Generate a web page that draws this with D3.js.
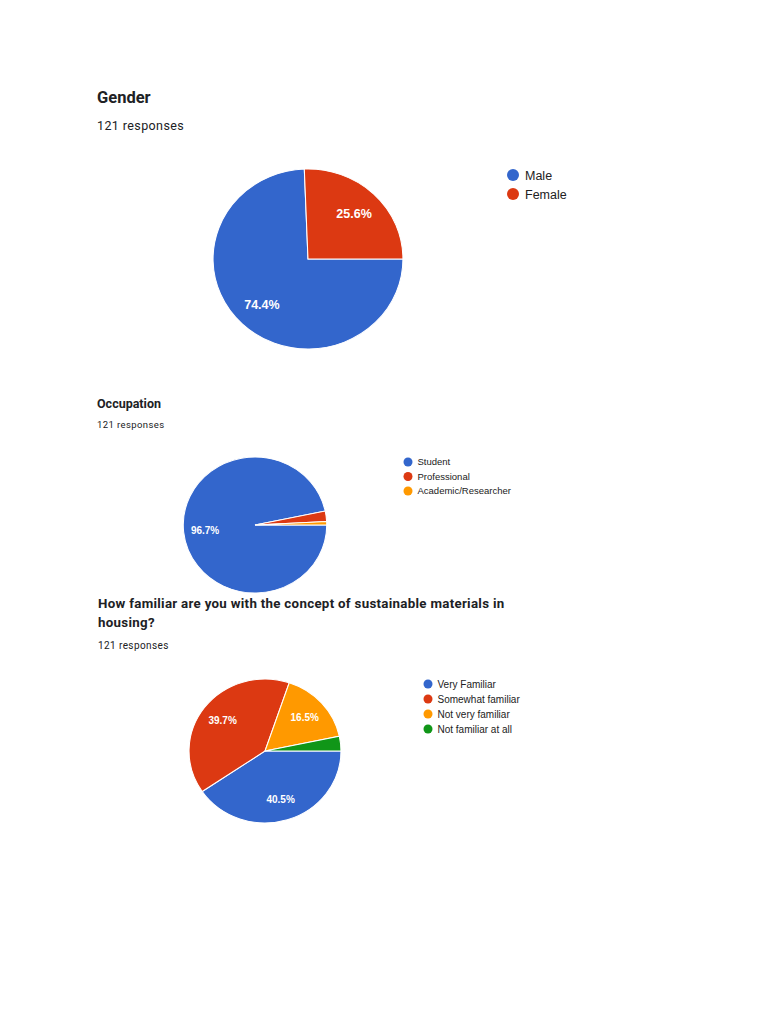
<!DOCTYPE html>
<html>
<head>
<meta charset="utf-8">
<script src="https://cdn.jsdelivr.net/npm/d3@7"></script>
<style>
  body { margin: 0; background: #fff; }
  .title { font-family: Roboto, "Liberation Sans", sans-serif; font-weight: bold; fill: #202124; }
  .sub { font-family: Roboto, "Liberation Sans", sans-serif; fill: #202124; letter-spacing: 0.4px; }
  .legend-text { font-family: "Liberation Sans", Arial, sans-serif; fill: #222; }
  .slice-label { font-family: "Liberation Sans", Arial, sans-serif; font-weight: bold; fill: #fff; }
</style>
</head>
<body>
<div id="chart"></div>
<script>
const COLORS = ['#3366cc', '#dc3912', '#ff9900', '#109618'];

const genderLabels = ['Male', 'Female'];
const genderValues = [90, 31];

const occupationLabels = ['Student', 'Professional', 'Academic/Researcher'];
const occupationValues = [117, 3, 1];

const familiarityLabels = ['Very Familiar', 'Somewhat familiar', 'Not very familiar', 'Not familiar at all'];
const familiarityValues = [49, 48, 20, 4];

const responses = '121 responses';

let svg = d3.select('#chart').append('svg')
    .attr('width', 768)
    .attr('height', 1024);

// the screenshot is a bit wider than tall, so the pies are ellipses
const stretch = 1.055;

function drawPie(cfg) {
    let total = d3.sum(cfg.values);
    let data = cfg.values.map((v, i) => ({label: cfg.labels[i], value: v, index: i}));

    let pie = d3.pie()
        .value(d => d.value)
        .sort(null)
        .startAngle(Math.PI / 2)
        .endAngle(Math.PI / 2 + 2 * Math.PI);

    let arc = d3.arc().innerRadius(0).outerRadius(cfg.r);
    let labelArc = d3.arc().innerRadius(cfg.r * 0.7).outerRadius(cfg.r * 0.7);

    let g = svg.append('g')
        .attr('transform', 'translate(' + cfg.cx + ',' + cfg.cy + ')');

    g.append('g')
        .attr('transform', 'scale(' + stretch + ',1)')
        .selectAll('path')
        .data(pie(data))
        .enter()
        .append('path')
        .attr('d', arc)
        .attr('fill', d => COLORS[d.data.index])
        .attr('stroke', '#fff')
        .attr('stroke-width', 1);

    g.selectAll('.slice-label')
        .data(pie(data).filter(d => d.data.value / total >= 0.05))
        .enter()
        .append('text')
        .attr('class', 'slice-label')
        .attr('x', d => labelArc.centroid(d)[0] * stretch)
        .attr('y', d => labelArc.centroid(d)[1])
        .attr('dy', '0.36em')
        .attr('text-anchor', 'middle')
        .attr('font-size', cfg.labelSize)
        .text(d => (d.data.value / total * 100).toFixed(1) + '%');

    let legend = svg.append('g')
        .attr('transform', 'translate(' + cfg.lx + ',' + cfg.ly + ')');

    legend.selectAll('circle')
        .data(data)
        .enter()
        .append('circle')
        .attr('cx', 0)
        .attr('cy', d => d.index * cfg.lstep)
        .attr('r', cfg.dot)
        .attr('fill', d => COLORS[d.index]);

    legend.selectAll('text')
        .data(data)
        .enter()
        .append('text')
        .attr('class', 'legend-text')
        .attr('x', cfg.dot + cfg.gap)
        .attr('y', d => d.index * cfg.lstep)
        .attr('dy', '0.36em')
        .attr('font-size', cfg.legendSize)
        .text(d => d.label);
}

function addText(x, y, size, cls, str, spacing) {
    svg.append('text')
        .attr('class', cls)
        .attr('x', x)
        .attr('y', y)
        .attr('font-size', size)
        .style('letter-spacing', spacing ? spacing + 'px' : null)
        .text(str);
}

// Gender
addText(97, 103, 16.5, 'title', 'Gender');
addText(97, 130, 12.5, 'sub', responses);
drawPie({
    labels: genderLabels, values: genderValues,
    cx: 308, cy: 259, r: 90, labelSize: 12.5,
    lx: 513, ly: 175, lstep: 19, dot: 6, gap: 6, legendSize: 12.5
});

// Occupation
addText(97, 408, 12.5, 'title', 'Occupation');
addText(97, 428, 9.5, 'sub', responses);
drawPie({
    labels: occupationLabels, values: occupationValues,
    cx: 255, cy: 525, r: 68, labelSize: 10,
    lx: 408, ly: 462, lstep: 14.5, dot: 4.5, gap: 5, legendSize: 9.5
});

// Familiarity
addText(98, 608, 13.3, 'title', 'How familiar are you with the concept of sustainable materials in', 0.3);
addText(98, 627, 13.3, 'title', 'housing?', 0.3);
addText(98, 649, 10, 'sub', responses);
drawPie({
    labels: familiarityLabels, values: familiarityValues,
    cx: 265, cy: 751, r: 72, labelSize: 10,
    lx: 428, ly: 684, lstep: 15, dot: 4.5, gap: 5, legendSize: 10
});
</script>
</body>
</html>
